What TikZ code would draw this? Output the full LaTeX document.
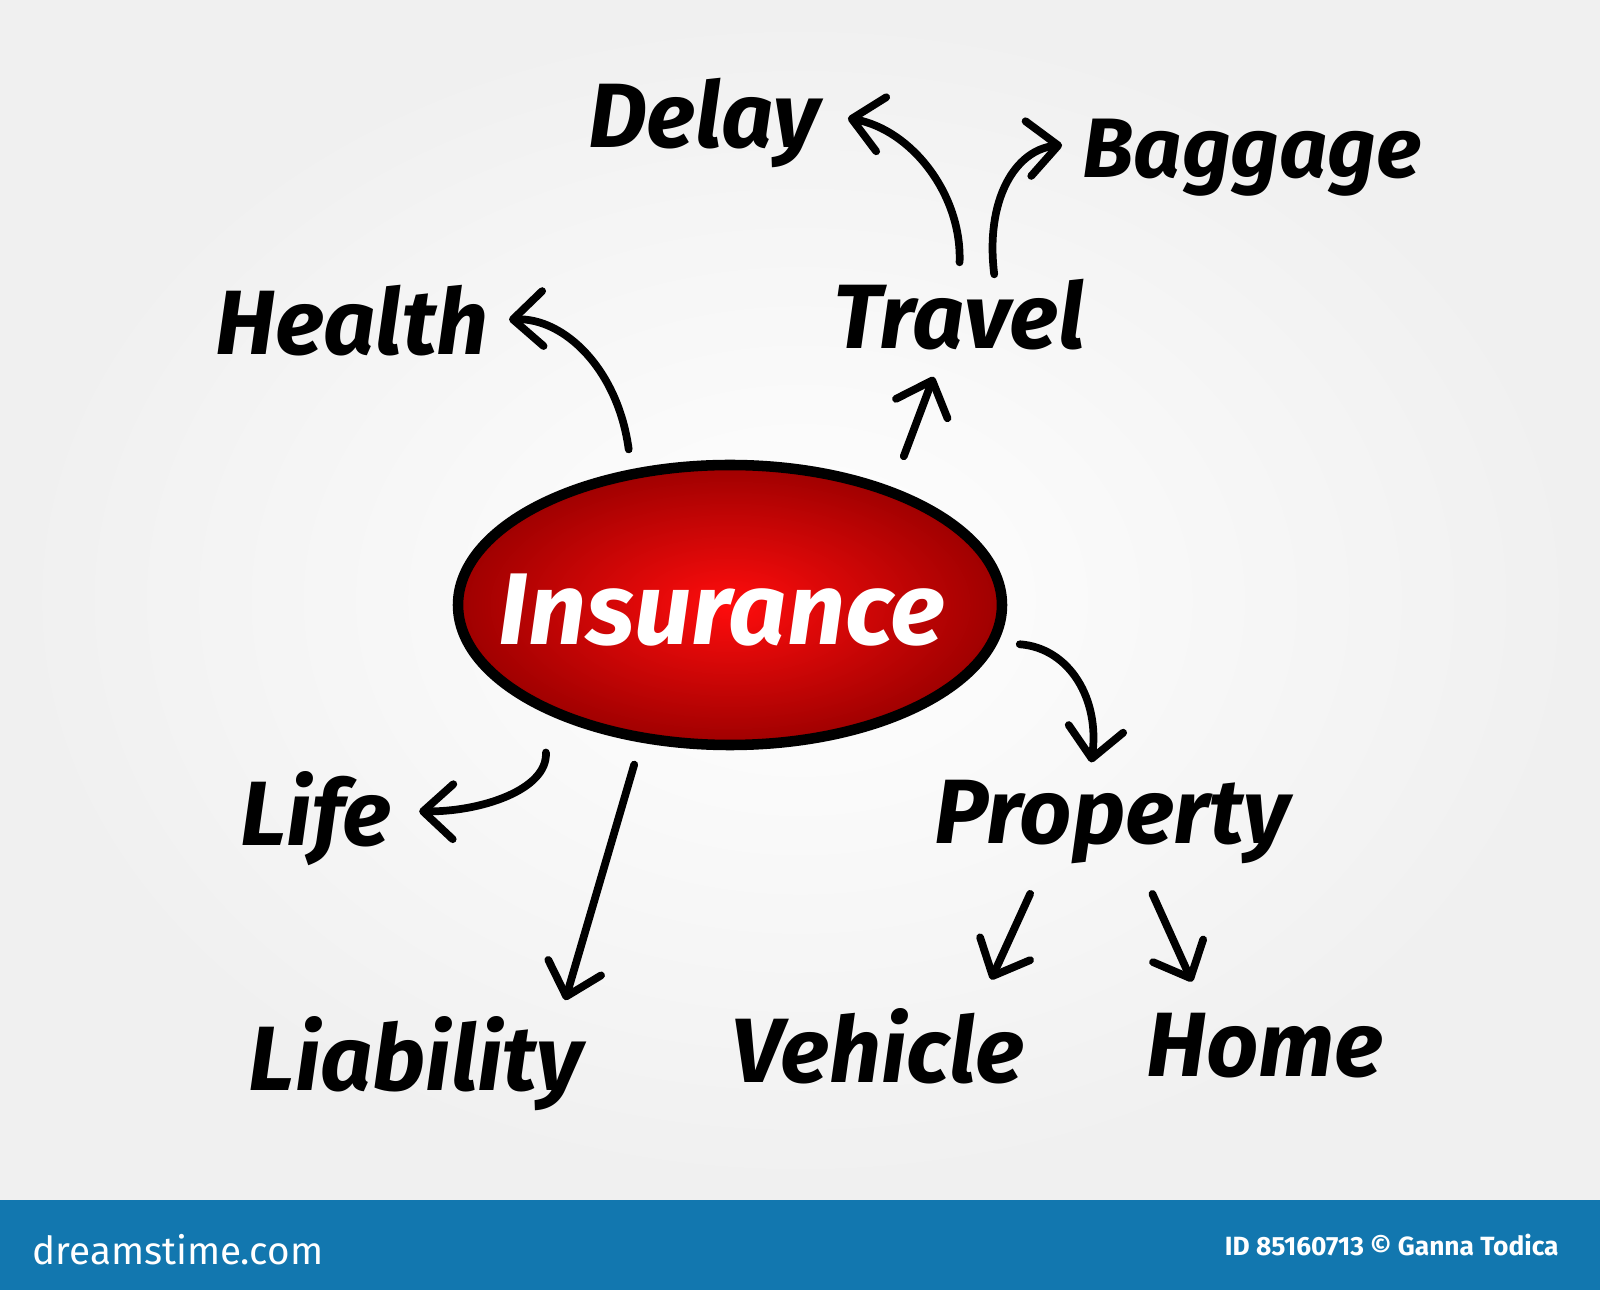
\documentclass[tikz,border=0pt]{standalone}
\usepackage{fontspec}
\setmainfont{Fira Sans}
\usetikzlibrary{arrows.meta, shapes.geometric}
\definecolor{barblue}{HTML}{1277AF}
\tikzset{
    >={Straight Barb[length=3mm, width=5.5mm, round]}, % open hand-drawn heads
    arr/.style={->, line width=2.2pt, line cap=round}, % every connector
    word/.style={font=\fontsize{26}{28}\selectfont\bfseries\itshape, inner sep=0pt, text height=7mm, text depth=0pt}, % the topics
    hub/.style={ellipse, draw=black, line width=3pt, inner color=red!95!white, outer color=red!62!black, minimum width=54.4mm, minimum height=28mm}, % the red centre
}

\begin{document}
\begin{tikzpicture}[x=0.1mm, y=-0.1mm]
    \useasboundingbox (0,0) rectangle (1600,1290);
    \shade[inner color=white, outer color=gray!12] (0,0) rectangle (1600,1200);
    \fill[barblue] (0,1200) rectangle (1600,1290);

    \node[hub] (insurance) at (730,605) {};
    \node[word, text=white, font=\fontsize{29}{31}\selectfont\bfseries\itshape] (insurancetext) at (722,610) {Insurance};

    \node[word] (delay) at (704,113) {Delay};
    \node[word, font=\fontsize{24}{26}\selectfont\bfseries\itshape] (baggage) at (1252,143) {Baggage};
    \node[word] (health) at (352,320) {Health};
    \node[word] (travel) at (959,314) {Travel};
    \node[word] (life) at (316,811) {Life};
    \node[word] (liability) at (416,1056) {Liability};
    \node[word] (property) at (1112,809) {Property};
    \node[word] (vehicle) at (878,1048) {Vehicle};
    \node[word] (home) at (1265,1042) {Home};

    \draw[arr, shorten <=2mm, shorten >=2mm] (insurance.126) .. controls (618,370) and (565,318) .. (health.east);
    \draw[arr, shorten <=3.3mm, shorten >=2.9mm] (insurance.36) -- (travel.247);
    \draw[arr, shorten <=1.6mm, shorten >=2.8mm] (travel.north) .. controls (962,195) and (912,130) .. (delay.east);
    \draw[arr, shorten <=0.4mm, shorten >=2mm] (travel.45) .. controls (985,200) and (1015,150) .. (baggage.west);
    \draw[arr, shorten <=2.2mm, shorten >=1.1mm] (insurance.-8) .. controls (1070,648) and (1100,700) .. (property.122);
    \draw[arr, shorten <=4mm, shorten >=2.7mm] (insurance.210) .. controls (548,790) and (480,812) .. (life.east);
    \draw[arr, shorten <=2.3mm, shorten >=2.1mm] (insurance.237) -- (liability.14);
    \draw[arr, shorten <=5.4mm, shorten >=3.6mm] (property.211) -- (vehicle.20);
    \draw[arr, shorten <=5.4mm, shorten >=2.7mm] (property.297) -- (home.150);

    \node[anchor=west, text=white, font=\fontsize{11}{13}\selectfont] (site) at (20,1250) {dreamstime.com};
    \node[anchor=east, text=white, font=\fontsize{7.5}{9}\selectfont\bfseries] (credit) at (1571,1245) {ID 85160713 © Ganna Todica};
\end{tikzpicture}
\end{document}
